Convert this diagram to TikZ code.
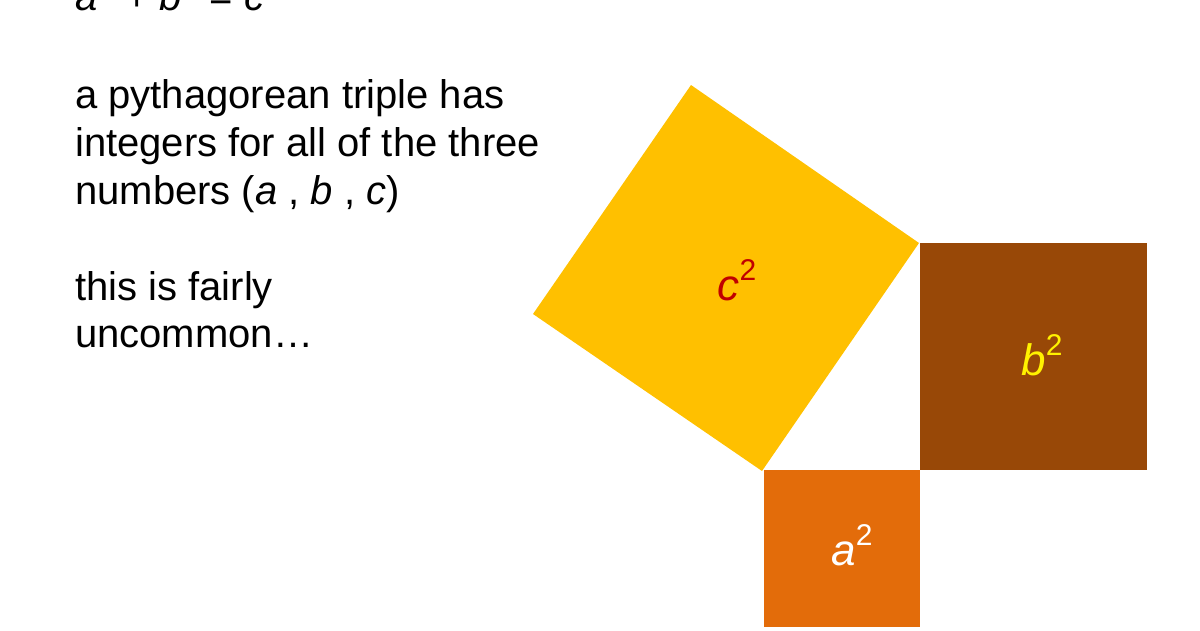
\documentclass[tikz,border=0pt]{standalone}
\usepackage{fontspec}
\setmainfont{Liberation Sans}
\definecolor{csq}{HTML}{FFC000}
\definecolor{ctx}{HTML}{C00000}
\definecolor{bsq}{HTML}{984807}
\definecolor{asq}{HTML}{E36C0A}
\newcommand{\supx}[1]{\raisebox{0.45em}{\fontsize{30}{32}\selectfont #1}}
\begin{document}
\begin{tikzpicture}[x=1pt,y=-1pt,
  txt/.style={anchor=base west,inner sep=0pt,font=\fontsize{40}{48}\selectfont},
  lbl/.style={font=\fontsize{44}{46}\selectfont,inner sep=0pt}]
\useasboundingbox (0,0) rectangle (1200,630);
\fill[csq] (691,85) -- (919,243) -- (762,471) -- (533,314) -- cycle;
\fill[bsq] (920,243) rectangle (1147,470);
\fill[asq] (764,470) rectangle (920,627);
\node[lbl,text=ctx] (c) at (737,280) {\textit{c}\supx{2}};
\node[lbl,text=yellow] (b) at (1042,355) {\textit{b}\supx{2}};
\node[lbl,text=white] (a) at (852,545) {\textit{a}\supx{2}};
\node[txt] (eq) at (75,10) {\textit{a}\supx{2} + \textit{b}\supx{2} = \textit{c}\supx{2}};
\node[txt] (l1) at (75,108) {a pythagorean triple has};
\node[txt] (l2) at (75,156) {integers for all of the three};
\node[txt] (l3) at (75,204) {numbers (\textit{a} , \textit{b} , \textit{c})};
\node[txt] (l4) at (75,300) {this is fairly};
\node[txt] (l5) at (75,347) {uncommon…};
\end{tikzpicture}
\end{document}
